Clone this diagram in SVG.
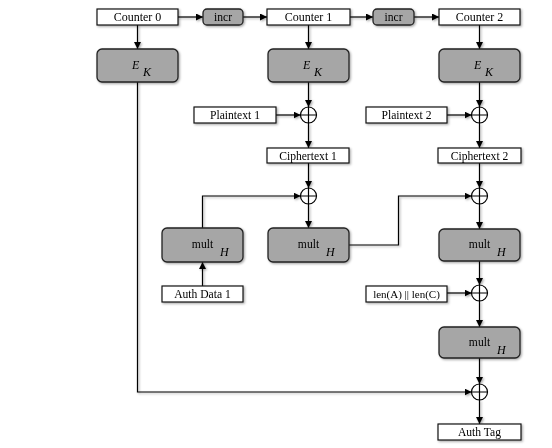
<svg xmlns="http://www.w3.org/2000/svg" width="552" height="448" viewBox="0 0 552 448">
<defs>
<filter id="sh" x="-10%" y="-20%" width="130%" height="160%">
<feDropShadow dx="1.2" dy="1.2" stdDeviation="0.8" flood-color="#000" flood-opacity="0.35"/>
</filter>
<marker id="ar" viewBox="0 0 10 10" refX="10" refY="5" markerWidth="7" markerHeight="7" markerUnits="userSpaceOnUse" orient="auto">
<path d="M0,0 L10,5 L0,10 z" fill="#000"/>
</marker>
</defs>
<style>
.w{fill:#fff;stroke:#111;stroke-width:1.2}
.g{fill:#a6a6a6;stroke:#222;stroke-width:1.3}
.t{font-family:"Liberation Serif",serif;font-size:11.6px;fill:#000;text-anchor:middle}
.c{font-size:12px}
.i{font-family:"Liberation Serif",serif;font-style:italic;font-size:12px;fill:#000}
.ln{fill:none;stroke:#000;stroke-width:1.2}
.x{fill:#fff;stroke:#000;stroke-width:1.2}
</style>
<rect width="552" height="448" fill="#fff"/>

<g id="connectors" filter="url(#sh)">
<path class="ln" d="M178,17 H203" marker-end="url(#ar)"/>
<path class="ln" d="M243,17 H267" marker-end="url(#ar)"/>
<path class="ln" d="M350,17 H373" marker-end="url(#ar)"/>
<path class="ln" d="M414,17 H439" marker-end="url(#ar)"/>
<path class="ln" d="M137.5,25 V49" marker-end="url(#ar)"/>
<path class="ln" d="M308.5,25 V49" marker-end="url(#ar)"/>
<path class="ln" d="M479.5,25 V49" marker-end="url(#ar)"/>
<path class="ln" d="M308.5,82 V107" marker-end="url(#ar)"/>
<path class="ln" d="M276,115 H300.5" marker-end="url(#ar)"/>
<path class="ln" d="M308.5,123 V148" marker-end="url(#ar)"/>
<path class="ln" d="M308.5,163 V188" marker-end="url(#ar)"/>
<path class="ln" d="M202.5,228 V196 H300.5" marker-end="url(#ar)"/>
<path class="ln" d="M308.5,204 V228" marker-end="url(#ar)"/>
<path class="ln" d="M202.5,286 V262" marker-end="url(#ar)"/>
<path class="ln" d="M349,245 H398.5 V196 H471.5" marker-end="url(#ar)"/>
<path class="ln" d="M479.5,82 V107" marker-end="url(#ar)"/>
<path class="ln" d="M447,115 H471.5" marker-end="url(#ar)"/>
<path class="ln" d="M479.5,123 V148" marker-end="url(#ar)"/>
<path class="ln" d="M479.5,163 V188" marker-end="url(#ar)"/>
<path class="ln" d="M479.5,204 V229" marker-end="url(#ar)"/>
<path class="ln" d="M479.5,261 V285" marker-end="url(#ar)"/>
<path class="ln" d="M447,293 H471.5" marker-end="url(#ar)"/>
<path class="ln" d="M479.5,301 V327" marker-end="url(#ar)"/>
<path class="ln" d="M479.5,358 V384" marker-end="url(#ar)"/>
<path class="ln" d="M137.5,82 V392 H471.5" marker-end="url(#ar)"/>
<path class="ln" d="M479.5,400 V424" marker-end="url(#ar)"/>
</g>

<g id="counter0" filter="url(#sh)"><rect class="w" x="97" y="9" width="81" height="16"/><text class="t c" x="137.5" y="21">Counter 0</text></g>
<g id="incr1" filter="url(#sh)"><rect class="g" x="203" y="9" width="40" height="16" rx="4"/><text class="t" x="223" y="21">incr</text></g>
<g id="counter1" filter="url(#sh)"><rect class="w" x="267" y="9" width="83" height="16"/><text class="t c" x="308.5" y="21">Counter 1</text></g>
<g id="incr2" filter="url(#sh)"><rect class="g" x="373" y="9" width="41" height="16" rx="4"/><text class="t" x="393.5" y="21">incr</text></g>
<g id="counter2" filter="url(#sh)"><rect class="w" x="439" y="9" width="81" height="16"/><text class="t c" x="479.5" y="21">Counter 2</text></g>

<g id="ek0" filter="url(#sh)"><rect class="g" x="97" y="49" width="81" height="33" rx="5"/><text class="i" x="132" y="69">E</text><text class="i" x="143" y="76">K</text></g>
<g id="ek1" filter="url(#sh)"><rect class="g" x="268" y="49" width="81" height="33" rx="5"/><text class="i" x="303" y="69">E</text><text class="i" x="314" y="76">K</text></g>
<g id="ek2" filter="url(#sh)"><rect class="g" x="439" y="49" width="81" height="33" rx="5"/><text class="i" x="474" y="69">E</text><text class="i" x="485" y="76">K</text></g>

<g id="plaintext1" filter="url(#sh)"><rect class="w" x="194" y="107" width="82" height="16"/><text class="t" x="235" y="119">Plaintext 1</text></g>
<g id="plaintext2" filter="url(#sh)"><rect class="w" x="366" y="107" width="81" height="16"/><text class="t" x="406.5" y="119">Plaintext 2</text></g>
<g id="ciphertext1" filter="url(#sh)"><rect class="w" x="267" y="148" width="82" height="15"/><text class="t" x="308" y="159.5">Ciphertext 1</text></g>
<g id="ciphertext2" filter="url(#sh)"><rect class="w" x="438" y="148" width="83" height="15"/><text class="t" x="479.5" y="159.5">Ciphertext 2</text></g>

<g id="xor1"><circle class="x" cx="308.5" cy="115" r="8"/><path class="ln" d="M300.5,115 H316.5 M308.5,107 V123"/></g>
<g id="xor2"><circle class="x" cx="308.5" cy="196" r="8"/><path class="ln" d="M300.5,196 H316.5 M308.5,188 V204"/></g>
<g id="xor3"><circle class="x" cx="479.5" cy="115" r="8"/><path class="ln" d="M471.5,115 H487.5 M479.5,107 V123"/></g>
<g id="xor4"><circle class="x" cx="479.5" cy="196" r="8"/><path class="ln" d="M471.5,196 H487.5 M479.5,188 V204"/></g>
<g id="xor5"><circle class="x" cx="479.5" cy="293" r="8"/><path class="ln" d="M471.5,293 H487.5 M479.5,285 V301"/></g>
<g id="xor6"><circle class="x" cx="479.5" cy="392" r="8"/><path class="ln" d="M471.5,392 H487.5 M479.5,384 V400"/></g>

<g id="mult1" filter="url(#sh)"><rect class="g" x="162" y="228" width="81" height="34" rx="5"/><text class="t" x="202.5" y="248">mult</text><text class="i" x="220" y="256">H</text></g>
<g id="mult2" filter="url(#sh)"><rect class="g" x="268" y="228" width="81" height="34" rx="5"/><text class="t" x="308.5" y="248">mult</text><text class="i" x="326" y="256">H</text></g>
<g id="mult3" filter="url(#sh)"><rect class="g" x="439" y="229" width="81" height="32" rx="5"/><text class="t" x="479.5" y="248">mult</text><text class="i" x="497" y="256">H</text></g>
<g id="mult4" filter="url(#sh)"><rect class="g" x="439" y="327" width="81" height="31" rx="5"/><text class="t" x="479.5" y="346">mult</text><text class="i" x="497" y="354">H</text></g>

<g id="authdata1" filter="url(#sh)"><rect class="w" x="162" y="286" width="81" height="16"/><text class="t" x="202.5" y="298">Auth Data 1</text></g>
<g id="lenac" filter="url(#sh)"><rect class="w" x="366" y="286" width="81" height="16"/><text class="t" x="406.5" y="298" style="font-size:11px">len(A) || len(C)</text></g>
<g id="authtag" filter="url(#sh)"><rect class="w" x="438" y="424" width="83" height="16"/><text class="t" x="479.5" y="436">Auth Tag</text></g>
</svg>
